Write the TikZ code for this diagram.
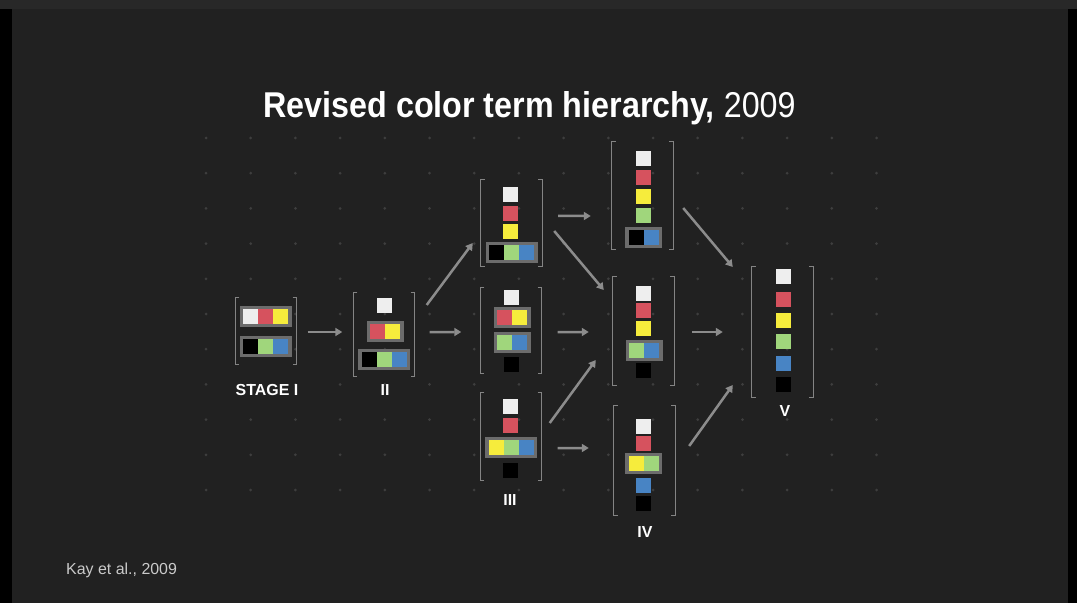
\documentclass[tikz,border=0pt]{standalone}
\usepackage{fontspec}
\setmainfont{Liberation Sans}
\newfontfamily\titlefont[FakeStretch=0.9]{Liberation Sans}
\usepackage{tikz}
\usetikzlibrary{arrows.meta,calc,positioning}
\usepackage{xcolor}
\definecolor{SlideBg}{RGB}{33,33,33}
\definecolor{TopBar}{RGB}{40,40,40}
\definecolor{GridDot}{RGB}{62,62,62}
\definecolor{FrameGrey}{RGB}{132,132,132}
\definecolor{BoxGrey}{RGB}{108,108,108}
\definecolor{ArrowGrey}{RGB}{140,140,140}
\definecolor{TermWhite}{RGB}{238,238,238}
\definecolor{TermRed}{RGB}{214,82,94}
\definecolor{TermYellow}{RGB}{246,236,60}
\definecolor{TermGreen}{RGB}{160,214,124}
\definecolor{TermBlue}{RGB}{72,132,196}
\definecolor{TermBlack}{RGB}{0,0,0}

% one colour square, centred at (x,y)
\newcommand{\term}[3]{\fill[#3] (#1-7.5,#2-7.5) rectangle ++(15,15);}
% grey box of n squares, centred at (x,y)
\newcommand{\termbox}[4]{%
  \fill[BoxGrey] (#1-#3*7.5-3.5,#2-10.5) rectangle (#1+#3*7.5+3.5,#2+10.5);
  \foreach \c [count=\i] in {#4}
    \fill[\c] (#1-#3*7.5+\i*15-15,#2-7.5) rectangle ++(15,15);}
% square brackets round a stage node
\newcommand{\brackets}[1]{%
  \draw[bracket] ([xshift=4bp]#1.north west) -- (#1.north west) -- (#1.south west) -- ([xshift=4bp]#1.south west);
  \draw[bracket] ([xshift=-4bp]#1.north east) -- (#1.north east) -- (#1.south east) -- ([xshift=-4bp]#1.south east);}

\begin{document}
\begin{tikzpicture}[x=1bp, y=-1bp,
  stage/.style={inner sep=0, minimum width=61bp},
  bracket/.style={FrameGrey, line width=1.3bp},
  arr/.style={ArrowGrey, line width=2.5bp, -{Triangle[length=7bp,width=8bp]}},
  stagelabel/.style={white, font=\fontsize{16}{16}\selectfont\bfseries}]
\useasboundingbox (0,0) rectangle (1077,606);
\fill[white] (0,0) rectangle (1077,606);
\fill[SlideBg] (0,0) rectangle (1077,603);
\fill[TopBar] (0,0) rectangle (1077,9);
\fill[black] (0,9) rectangle (12,603);
\fill[black] (1068,9) rectangle (1077,603);
% dot grid
\foreach \i in {0,...,15}
  \foreach \j in {0,...,10}
    \fill[GridDot] (206+\i*44.7,138+\j*35.2) circle (1.5);

\node[white, anchor=base, font=\titlefont\fontsize{36}{36}\selectfont] (title) at (529.5,118)
  {\textbf{Revised color term hierarchy,} 2009};
\node[TermWhite!85!black, anchor=base west, inner sep=0, font=\fontsize{16}{16}\selectfont] (source) at (66,574) {Kay et al., 2009};

% stages
\node[stage, minimum height=66bp] (s1) at (266,331) {};
\node[stage, minimum height=83bp] (s2) at (384,334.5) {};
\node[stage, minimum height=86bp] (s3a) at (511.5,223) {};
\node[stage, minimum height=85bp] (s3b) at (511,330.5) {};
\node[stage, minimum height=87bp] (s3c) at (511,436.5) {};
\node[stage, minimum height=107bp] (s4a) at (642.5,195.5) {};
\node[stage, minimum height=108bp] (s4b) at (643.5,331) {};
\node[stage, minimum height=109bp] (s4c) at (644.5,460.5) {};
\node[stage, minimum height=130bp] (s5) at (782.5,332) {};
\foreach \s in {s1,s2,s3a,s3b,s3c,s4a,s4b,s4c,s5} {\brackets{\s}}

\node[stagelabel] (l1) at (267,390) {STAGE I};
\node[stagelabel] (l2) at (385,390) {II};
\node[stagelabel] (l3) at (510,500) {III};
\node[stagelabel] (l4) at (645,532) {IV};
\node[stagelabel] (l5) at (785,411) {V};

% stage I
\termbox{265.5}{316}{3}{TermWhite,TermRed,TermYellow}
\termbox{265.5}{346.5}{3}{TermBlack,TermGreen,TermBlue}
% stage II
\term{384.5}{305.5}{TermWhite}
\termbox{385}{331}{2}{TermRed,TermYellow}
\termbox{384}{359.5}{3}{TermBlack,TermGreen,TermBlue}
% stage III
\term{510.5}{194.5}{TermWhite}
\term{510.5}{213.5}{TermRed}
\term{510.5}{231.5}{TermYellow}
\termbox{511.5}{252.5}{3}{TermBlack,TermGreen,TermBlue}
\term{511.5}{297.5}{TermWhite}
\termbox{512}{317.5}{2}{TermRed,TermYellow}
\termbox{512}{342.5}{2}{TermGreen,TermBlue}
\term{511.5}{364.5}{TermBlack}
\term{510.5}{406.5}{TermWhite}
\term{510.5}{425.5}{TermRed}
\termbox{511}{447.5}{3}{TermYellow,TermGreen,TermBlue}
\term{510.5}{470.5}{TermBlack}
% stage IV
\foreach \y/\c in {158.5/TermWhite,177.5/TermRed,196.5/TermYellow,215.5/TermGreen}
  {\term{643.5}{\y}{\c}}
\termbox{643.5}{238}{2}{TermBlack,TermBlue}
\foreach \y/\c in {293.5/TermWhite,310.5/TermRed,328.5/TermYellow,370.5/TermBlack}
  {\term{643.5}{\y}{\c}}
\termbox{644}{350}{2}{TermGreen,TermBlue}
\foreach \y/\c in {426.5/TermWhite,443.5/TermRed,485.5/TermBlue,503.5/TermBlack}
  {\term{643.5}{\y}{\c}}
\termbox{643.5}{463.5}{2}{TermYellow,TermGreen}
% stage V
\foreach \y/\c in {276.5/TermWhite,299.5/TermRed,320.5/TermYellow,341.5/TermGreen,363.5/TermBlue,384.5/TermBlack}
  {\term{783.5}{\y}{\c}}

% arrows
\draw[arr] ([shift={(11,1)}]s1.east) -- ([shift={(-11,-2.5)}]s2.west);
\draw[arr] ([shift={(12,-29.5)}]s2.east) -- ([shift={(-8,20)}]s3a.west);
\draw[arr] ([shift={(15,-2.5)}]s2.east) -- ([shift={(-19,1.5)}]s3b.west);
\draw[arr] ([shift={(16,-7)}]s3a.east) -- ([shift={(-21,20.5)}]s4a.west);
\draw[arr] ([shift={(12,8)}]s3a.east) -- ([shift={(-9,-41)}]s4b.west);
\draw[arr] ([shift={(16,1.5)}]s3b.east) -- ([shift={(-24,1)}]s4b.west);
\draw[arr] ([shift={(8,-13.5)}]s3c.east) -- ([shift={(-17,29)}]s4b.west);
\draw[arr] ([shift={(16,11.5)}]s3c.east) -- ([shift={(-25,-12.5)}]s4c.west);
\draw[arr] ([shift={(10,12.5)}]s4a.east) -- ([shift={(-19,-65)}]s5.west);
\draw[arr] ([shift={(18,1)}]s4b.east) -- ([shift={(-29,0)}]s5.west);
\draw[arr] ([shift={(14,-14.5)}]s4c.east) -- ([shift={(-19,53)}]s5.west);
\end{tikzpicture}
\end{document}
